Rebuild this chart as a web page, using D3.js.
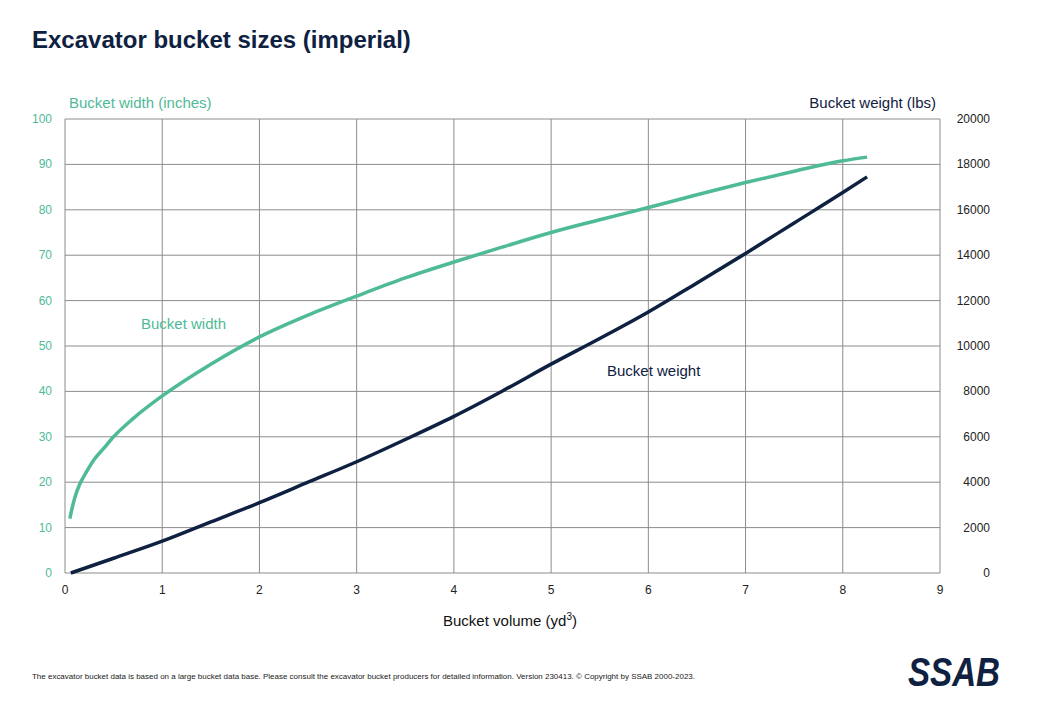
<!DOCTYPE html>
<html><head><meta charset="utf-8">
<script src="https://cdn.jsdelivr.net/npm/d3@7"></script>
<style>body{margin:0;background:#fff;font-family:Arial,"Liberation Sans",sans-serif}</style>
</head><body>
<svg width="1040" height="720"></svg>
<script>
// bucket width (inches) vs volume (yd3)
var widthVol = [0.05, 0.07, 0.1, 0.15, 0.2, 0.3, 0.4, 0.5, 0.7, 1, 1.5, 2, 2.5, 3, 3.5, 4, 4.5, 5, 5.5, 6, 6.5, 7, 7.5, 8, 8.25];
var widthIn  = [12, 14, 16.5, 19.5, 21.5, 25, 27.5, 30, 34, 39, 46, 52, 56.8, 61, 65, 68.5, 71.8, 75, 77.8, 80.5, 83.3, 86, 88.5, 90.8, 91.6];
// bucket weight (lbs) vs volume (yd3)
var weightVol = [0.06, 0.5, 1, 1.5, 2, 2.5, 3, 3.5, 4, 4.5, 5, 5.5, 6, 6.5, 7, 7.5, 8, 8.25];
var weightLbs = [0, 650, 1400, 2250, 3100, 4000, 4900, 5880, 6900, 8020, 9200, 10330, 11500, 12780, 14080, 15420, 16760, 17450];
var xTicks = [0, 1, 2, 3, 4, 5, 6, 7, 8, 9];
var leftTicks = [0, 10, 20, 30, 40, 50, 60, 70, 80, 90, 100];
var rightTicks = [0, 2000, 4000, 6000, 8000, 10000, 12000, 14000, 16000, 18000, 20000];

var green = "#4fba98", navy = "#0f2141";
var svg = d3.select("svg");
var x = d3.scaleLinear().domain([0, 9]).range([65, 940]);
var yL = d3.scaleLinear().domain([0, 100]).range([573, 119]);
var yR = d3.scaleLinear().domain([0, 20000]).range([573, 119]);

svg.append("text").attr("x", 32).attr("y", 48).attr("font-size", 24).attr("font-weight", "bold")
  .attr("fill", navy).text("Excavator bucket sizes (imperial)");

// grid
svg.append("g").selectAll("line").data(xTicks).enter().append("line")
  .attr("x1", d => x(d)).attr("x2", d => x(d)).attr("y1", 119).attr("y2", 573)
  .attr("stroke", "#8c8c8c").attr("stroke-width", 1);
svg.append("g").selectAll("line").data(leftTicks).enter().append("line")
  .attr("x1", 65).attr("x2", 940).attr("y1", d => yL(d)).attr("y2", d => yL(d))
  .attr("stroke", "#8c8c8c").attr("stroke-width", 1);

// tick labels
svg.append("g").selectAll("text").data(xTicks).enter().append("text")
  .attr("x", d => x(d)).attr("y", 594).attr("text-anchor", "middle").attr("font-size", 12)
  .attr("fill", "#222").text(d => d);
svg.append("g").selectAll("text").data(leftTicks).enter().append("text")
  .attr("x", 52).attr("y", d => yL(d) + 4).attr("text-anchor", "end").attr("font-size", 12)
  .attr("fill", green).text(d => d);
svg.append("g").selectAll("text").data(rightTicks).enter().append("text")
  .attr("x", 990).attr("y", d => yR(d) + 4).attr("text-anchor", "end").attr("font-size", 12)
  .attr("fill", "#222").text(d => d);

svg.append("text").attr("x", 69).attr("y", 108).attr("font-size", 15).attr("fill", green).text("Bucket width (inches)");
svg.append("text").attr("x", 936).attr("y", 108).attr("text-anchor", "end").attr("font-size", 15).attr("fill", navy).text("Bucket weight (lbs)");
var xt = svg.append("text").attr("x", 510).attr("y", 626).attr("text-anchor", "middle").attr("font-size", 15).attr("fill", "#111");
xt.append("tspan").text("Bucket volume  (yd");
xt.append("tspan").attr("dy", -6).attr("font-size", 10).text("3");
xt.append("tspan").attr("dy", 6).text(")");

// lines
svg.append("path").datum(d3.zip(widthVol, widthIn))
  .attr("d", d3.line().x(d => x(d[0])).y(d => yL(d[1])).curve(d3.curveMonotoneX))
  .attr("fill", "none").attr("stroke", green).attr("stroke-width", 3.5);
svg.append("path").datum(d3.zip(weightVol, weightLbs))
  .attr("d", d3.line().x(d => x(d[0])).y(d => yR(d[1])).curve(d3.curveMonotoneX))
  .attr("fill", "none").attr("stroke", navy).attr("stroke-width", 3.5);

svg.append("text").attr("x", 141).attr("y", 329).attr("font-size", 15).attr("fill", green).text("Bucket width");
svg.append("text").attr("x", 607).attr("y", 376).attr("font-size", 15).attr("fill", navy).text("Bucket weight");

svg.append("text").attr("x", 32).attr("y", 679).attr("font-size", 7).attr("fill", "#222")
  .attr("textLength", 663).attr("lengthAdjust", "spacingAndGlyphs")
  .text("The excavator bucket data is based on a large bucket data base. Please consult the excavator bucket producers for detailed information. Version 230413.  © Copyright by SSAB 2000-2023.");
svg.append("text").attr("x", 1000).attr("y", 686).attr("text-anchor", "end").attr("font-size", 40)
  .attr("font-weight", "bold").attr("font-style", "italic").attr("fill", navy)
  .attr("textLength", 92).attr("lengthAdjust", "spacingAndGlyphs").text("SSAB");
</script>
</body></html>
